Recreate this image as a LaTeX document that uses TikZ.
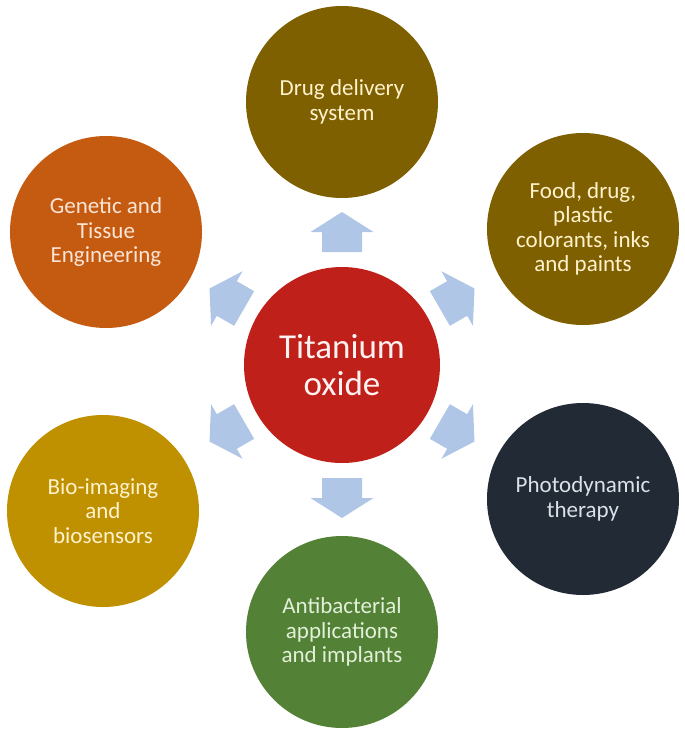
\documentclass[tikz,border=0pt]{standalone}
\usepackage{fontspec}
\setmainfont{Carlito}
\definecolor{olivebr}{HTML}{7F6000}
\definecolor{orangebr}{HTML}{C55A11}
\definecolor{goldbr}{HTML}{BF9000}
\definecolor{navy}{HTML}{222A35}
\definecolor{leaf}{HTML}{538135}
\definecolor{tired}{HTML}{C0201A}
\definecolor{arrowblue}{HTML}{B0C6E6}
\definecolor{txtyel}{HTML}{FFF2CC}
\definecolor{txtorg}{HTML}{FBE5D6}
\definecolor{txtgrn}{HTML}{E2F0D9}
\definecolor{txtgry}{HTML}{DCE1E8}
\begin{document}
\begin{tikzpicture}[x=1pt,y=-1pt,
  bubble/.style={circle,minimum size=192pt,inner sep=0pt,align=center,
    font=\fontsize{23}{24.5}\selectfont},
  hub/.style={circle,minimum size=196pt,inner sep=0pt,align=center,
    font=\fontsize{35}{37}\selectfont,fill=tired,text=white!95!red},
  arrowfill/.style={fill=arrowblue}]
\useasboundingbox (0,0) rectangle (685,732);
\node[hub] (c) at (342,365) {Titanium\\oxide};
\node[bubble,fill=olivebr,text=txtyel] (top) at (342,102) {Drug delivery\\system};
\node[bubble,fill=olivebr,text=txtyel] (tr) at (583,229) {Food, drug,\\plastic\\colorants, inks\\and paints};
\node[bubble,fill=navy,text=txtgry] (br) at (583,499) {Photodynamic\\therapy};
\node[bubble,fill=leaf,text=txtgrn] (bot) at (342,632) {Antibacterial\\applications\\and implants};
\node[bubble,fill=goldbr,text=txtyel] (bl) at (103,511) {Bio-imaging\\and\\biosensors};
\node[bubble,fill=orangebr,text=txtorg] (tl) at (106,232) {Genetic and\\Tissue\\Engineering};
\foreach \a in {90,30,-30,-90,-150,150} {
  \fill[arrowfill,shift={(c.center)},rotate=\a]
    (113,-20) -- (133,-20) -- (133,-31.5) -- (153,0) -- (133,31.5) -- (133,20) -- (113,20) -- cycle;
}
\end{tikzpicture}
\end{document}
